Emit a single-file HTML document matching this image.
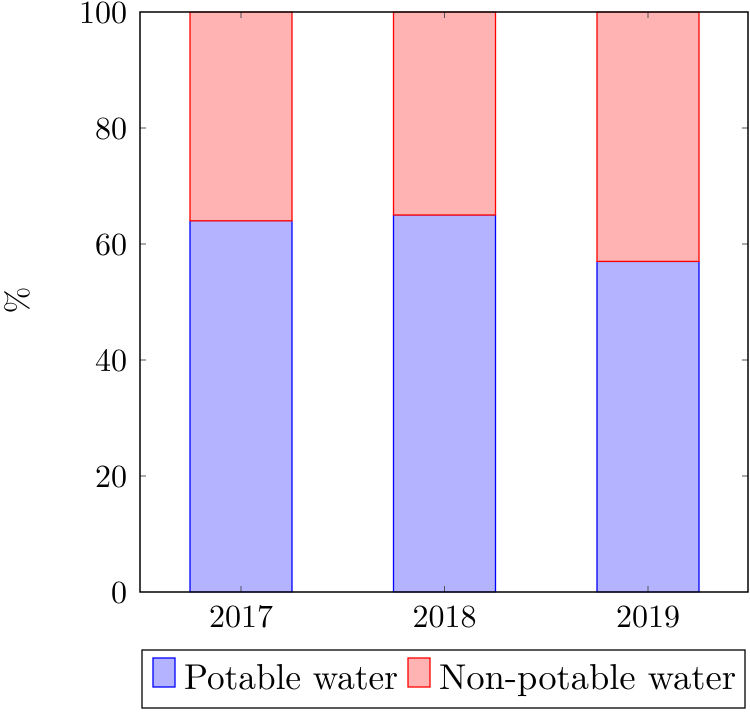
<!DOCTYPE html>
<html><head><meta charset="utf-8"><style>
body{margin:0;background:#fff}
svg text{font-family:"Latin Modern Roman","Liberation Serif",serif;fill:#000}
</style></head><body>
<svg width="750" height="710" viewBox="0 0 750 710">
<g id="plot"></g>
<text transform="translate(28,300) rotate(-90)" font-size="32" text-anchor="middle">%</text>
<g>
<rect x="142" y="650" width="603" height="58" fill="#fff" stroke="#000" stroke-width="1.3"/>
<g>
<rect x="153" y="658" width="22" height="29" fill="#b3b3ff" stroke="#0000ff" stroke-width="1.3"/>
<text x="184" y="689" font-size="36" textLength="214" lengthAdjust="spacingAndGlyphs">Potable water</text></g>
<g>
<rect x="408" y="658" width="22" height="29" fill="#ffb3b3" stroke="#ff0000" stroke-width="1.3"/>
<text x="439" y="689" font-size="36" textLength="297" lengthAdjust="spacingAndGlyphs">Non-potable water</text></g>
</g>
</svg>
<script>
const categories=["2017","2018","2019"];
const potable=[64,65,57];
const nonPotable=[36,35,43];
const yTicks=[0,20,40,60,80,100];
const NS="http://www.w3.org/2000/svg";
const g=document.getElementById('plot');
const L=140,R=748,T=12,B=592;
const y=v=>B-(v/100)*(B-T);
const xc=i=>241+i*203.5;
const bw=102;
function mk(t,a){const e=document.createElementNS(NS,t);for(const k in a)e.setAttribute(k,a[k]);g.appendChild(e);return e;}
categories.forEach((c,i)=>{
 const b1=mk('rect',{x:xc(i)-bw/2,y:y(potable[i]),width:bw,height:y(0)-y(potable[i]),fill:'#b3b3ff',stroke:'#0000ff','stroke-width':1.3});
 
 
 const top=potable[i]+nonPotable[i];
 const b2=mk('rect',{x:xc(i)-bw/2,y:y(top),width:bw,height:y(potable[i])-y(top),fill:'#ffb3b3',stroke:'#ff0000','stroke-width':1.3});
 
 
 const t=mk('text',{x:xc(i),y:627,'font-size':32,'text-anchor':'middle'});t.textContent=c;
 
 
 mk('line',{x1:xc(i),x2:xc(i),y1:B,y2:B-6,stroke:'#555','stroke-width':1});
 mk('line',{x1:xc(i),x2:xc(i),y1:T,y2:T+6,stroke:'#555','stroke-width':1});
});
yTicks.forEach(v=>{
 mk('line',{x1:L,x2:L+6,y1:y(v),y2:y(v),stroke:'#555','stroke-width':1});
 mk('line',{x1:R,x2:R-6,y1:y(v),y2:y(v),stroke:'#555','stroke-width':1});
 const t=mk('text',{x:127,y:y(v)+11,'font-size':32,'text-anchor':'end'});t.textContent=v;
 
 
});
const f=mk('rect',{x:L,y:T,width:R-L,height:B-T,fill:'none',stroke:'#000','stroke-width':1.5});


</script>
</body></html>
